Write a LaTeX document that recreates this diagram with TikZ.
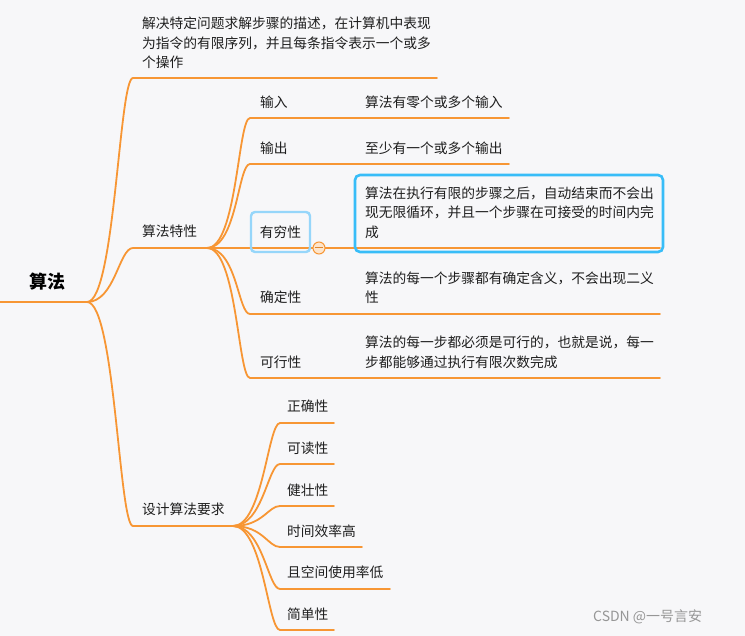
\documentclass[tikz,border=0pt]{standalone}
\usepackage{fontspec}
\setmainfont{Noto Sans CJK SC}
\definecolor{br}{RGB}{247,150,52}
\definecolor{bg}{RGB}{247,247,249}
\definecolor{hl}{RGB}{56,189,248}
\definecolor{hlb}{RGB}{150,214,250}
\definecolor{tx}{RGB}{30,30,30}
\definecolor{wm}{RGB}{150,150,150}
\begin{document}
\begin{tikzpicture}[x=1pt,y=-1pt,
  conn/.style={draw=br, line width=1.8pt, line cap=round},
  lbl/.style={anchor=west, inner sep=0pt, text=tx, font=\fontsize{13.75}{19.5}\selectfont, align=left},
  crv/.style={conn},
]
\fill[bg] (0,0) rectangle (745,636);
\useasboundingbox (0,0) rectangle (745,636);

% root
\node[anchor=center, inner sep=0pt, text=black, font=\fontsize{18}{22}\selectfont\bfseries] (root) at (48,282) {算法};
\coordinate (r0) at (0,302);
\coordinate (rb) at (87,302);
\draw[conn, line width=2.4pt, line cap=butt] (r0) -- (rb);

% level 1: definition
\node[lbl] (def) at (142,43) {解决特定问题求解步骤的描述，在计算机中表现\\为指令的有限序列，并且每条指令表示一个或多\\个操作};
\coordinate (defs) at (133,78);
\coordinate (defe) at (437,78);
\draw[conn] (rb) .. controls +(28,0) and +(-14,0) .. (defs) -- (defe);

% level 1: properties
\node[lbl] (prop) at (142,231) {算法特性};
\coordinate (props) at (133,248);
\coordinate (prope) at (207,248);
\draw[conn] (rb) .. controls +(28,0) and +(-14,0) .. (props) -- (prope);

% level 1: requirements
\node[lbl] (req) at (142,509) {设计算法要求};
\coordinate (reqs) at (133,526);
\coordinate (reqe) at (233,526);
\draw[conn] (rb) .. controls +(28,0) and +(-14,0) .. (reqs) -- (reqe);

% properties children
\node[lbl] (in) at (260,102) {输入};
\node[lbl] (ind) at (365,102) {算法有零个或多个输入};
\coordinate (ins) at (250,118); \coordinate (ine) at (509,118);
\draw[conn] (prope) .. controls +(30,0) and +(-12,0) .. (ins) -- (ine);

\node[lbl] (out) at (260,148) {输出};
\node[lbl] (outd) at (365,148) {至少有一个或多个输出};
\coordinate (outs) at (250,164); \coordinate (oute) at (509,164);
\draw[conn] (prope) .. controls +(30,0) and +(-12,0) .. (outs) -- (oute);

\coordinate (fine) at (660,248);
\draw[conn] (prope) -- (fine);
\node[draw=hlb, line width=2.4pt, rounded corners=4pt, minimum width=59pt, minimum height=40pt, inner sep=0pt, text=tx, font=\fontsize{13.75}{19.5}\selectfont] (fin) at (280.5,232) {有穷性};
\node[circle, draw=br, fill=br!25, minimum size=12pt, inner sep=0pt, line width=1pt] (col) at (319,248) {};
\draw[br!90!black, line width=1pt] ([xshift=2.5pt]col.west) -- ([xshift=-2.5pt]col.east);
\node[draw=hl, line width=2.6pt, rounded corners=5pt, minimum width=308pt, minimum height=77pt, inner sep=0pt] (finbox) at (509,213.5) {};
\node[lbl] (find) at (365,212.5) {算法在执行有限的步骤之后，自动结束而不会出\\现无限循环，并且一个步骤在可接受的时间内完\\成};

\node[lbl] (det) at (260,297) {确定性};
\node[lbl] (detd) at (365,287.5) {算法的每一个步骤都有确定含义，不会出现二义\\性};
\coordinate (dets) at (250,314); \coordinate (dete) at (660,314);
\draw[conn] (prope) .. controls +(30,0) and +(-12,0) .. (dets) -- (dete);

\node[lbl] (fea) at (260,362) {可行性};
\node[lbl] (fead) at (365,352.5) {算法的每一步都必须是可行的，也就是说，每一\\步都能够通过执行有限次数完成};
\coordinate (feas) at (250,378); \coordinate (feae) at (660,378);
\draw[conn] (prope) .. controls +(30,0) and +(-12,0) .. (feas) -- (feae);

% requirements children
\node[lbl] (q1) at (287,406) {正确性};
\coordinate (q1s) at (280,423); \coordinate (q1e) at (334,423);
\draw[conn] (reqe) .. controls +(30,0) and +(-12,0) .. (q1s) -- (q1e);

\node[lbl] (q2) at (287,448) {可读性};
\coordinate (q2s) at (280,464); \coordinate (q2e) at (334,464);
\draw[conn] (reqe) .. controls +(30,0) and +(-12,0) .. (q2s) -- (q2e);

\node[lbl] (q3) at (287,490) {健壮性};
\coordinate (q3s) at (280,506); \coordinate (q3e) at (334,506);
\draw[conn] (reqe) .. controls +(30,0) and +(-12,0) .. (q3s) -- (q3e);

\node[lbl] (q4) at (287,531) {时间效率高};
\coordinate (q4s) at (280,547); \coordinate (q4e) at (362,547);
\draw[conn] (reqe) .. controls +(30,0) and +(-12,0) .. (q4s) -- (q4e);

\node[lbl] (q5) at (287,572) {且空间使用率低};
\coordinate (q5s) at (280,589); \coordinate (q5e) at (390,589);
\draw[conn] (reqe) .. controls +(30,0) and +(-12,0) .. (q5s) -- (q5e);

\node[lbl] (q6) at (287,614) {简单性};
\coordinate (q6s) at (280,630); \coordinate (q6e) at (334,630);
\draw[conn] (reqe) .. controls +(30,0) and +(-12,0) .. (q6s) -- (q6e);

% watermark
\node[anchor=west, inner sep=0pt, text=wm, font=\fontsize{14}{16}\selectfont] (wmk) at (593,617) {CSDN @一号言安};
\end{tikzpicture}
\end{document}
